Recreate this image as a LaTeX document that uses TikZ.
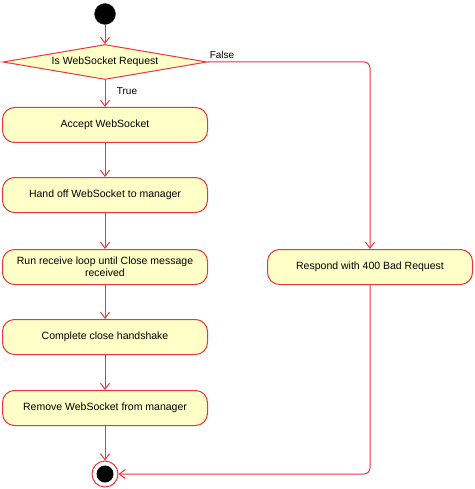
\documentclass[tikz,border=0pt]{standalone}
\usepackage{fontspec}
\setmainfont{Liberation Sans}
\usetikzlibrary{shapes.geometric,arrows.meta}
\definecolor{umlred}{RGB}{232,56,60}
\definecolor{umlfill}{RGB}{255,255,200}

\begin{document}
\begin{tikzpicture}[x=1pt,y=-1pt,
  action/.style={draw=umlred, fill=umlfill, line width=1pt, rounded corners=12pt,
    minimum width=205pt, minimum height=35pt, align=center, inner sep=2pt,
    font=\fontsize{10.5}{12}\selectfont},
  decision/.style={draw=umlred, fill=umlfill, line width=1pt, diamond, aspect=5.8, inner sep=0pt,
    minimum width=204pt, minimum height=35pt, font=\fontsize{10.5}{12}\selectfont},
  flow/.style={draw=umlred, line width=1pt, -{Straight Barb[length=6pt,width=9pt]}},
  guard/.style={font=\fontsize{10}{12}\selectfont}]
\useasboundingbox (0,0) rectangle (474,489);

% Initial and final states
\node[circle, fill=black, draw=black!80, minimum size=21pt, inner sep=0pt] (start) at (105,14) {};
\node[circle, draw=umlred, line width=1pt, fill=white, minimum size=26pt, inner sep=0pt] (stop) at (105,474) {};
\node[circle, fill=black, minimum size=17pt, inner sep=0pt] at (105,474) {};

% Decision
\node[decision] (isws) at (105,62) {Is WebSocket Request};

% Actions on the main path
\node[action] (accept) at (105,125) {Accept WebSocket};
\node[action] (handoff) at (105,195) {Hand off WebSocket to manager};
\node[action] (loop) at (105,267) {Run receive loop until Close message\\received};
\node[action] (close) at (105,337) {Complete close handshake};
\node[action] (remove) at (105,408) {Remove WebSocket from manager};

% Rejection branch
\node[action] (reject) at (370,267) {Respond with 400 Bad Request};

% Flows
\draw[flow] (start) -- (isws.north);
\draw[flow] (isws.south) -- (accept);
\draw[flow] (accept) -- (handoff);
\draw[flow] (handoff) -- (loop);
\draw[flow] (loop) -- (close);
\draw[flow] (close) -- (remove);
\draw[flow] (remove) -- (stop);
\draw[flow, rounded corners=6pt] (isws.east) -| (reject.north);
\draw[flow, rounded corners=6pt] (reject.south) |- (stop.east);

% Guards
\node[guard] at (222,55) {False};
\node[guard] at (127,91) {True};
\end{tikzpicture}
\end{document}
